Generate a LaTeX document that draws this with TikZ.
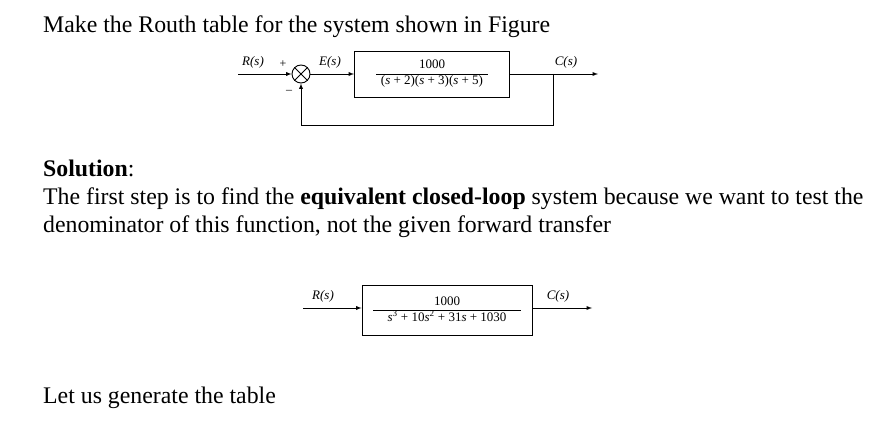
\documentclass[tikz,border=0pt]{standalone}
\usepackage{fontspec}
\setmainfont{Liberation Serif}
\begin{document}
\begin{tikzpicture}[x=1pt,y=-1pt,
  body/.style={font=\fontsize{23.8}{28}\selectfont,anchor=base west,inner sep=0},
  lab/.style={font=\fontsize{13}{15}\selectfont\itshape,inner sep=1pt},
  blk/.style={draw,line width=0.9pt,minimum width=155pt,minimum height=46pt,font=\fontsize{13}{15}\selectfont},
  sig/.style={line width=0.9pt,-latex}]
\useasboundingbox (0,0) rectangle (896,438);
\node[body] (t1) at (43,33) {Make the Routh table for the system shown in Figure};
% diagram 1
\coordinate (in1) at (238,74);
\node[draw,circle,line width=0.9pt,minimum size=18pt,inner sep=0] (sum) at (301,74) {};
\draw[line width=0.9pt] (sum.north west)--(sum.south east) (sum.north east)--(sum.south west);
\node[blk] (g1) at (432,74) {\begin{tabular}{@{}c@{}}1000\\[-9pt]\rule{112pt}{0.8pt}\\[-5pt](\textit{s} + 2)(\textit{s} + 3)(\textit{s} + 5)\end{tabular}};
\coordinate (br) at (553,74);
\coordinate (out1) at (598,74);
\coordinate (fb1) at (553,125);
\coordinate (fb2) at (301,125);
\draw[sig] (in1)--(sum.west);
\draw[sig] (sum.east)--(g1.west);
\draw[sig] (g1.east)--(out1);
\draw[sig] (br)--(fb1)--(fb2)--(sum.south);
\node[lab] (r1) at (253,62) {R(s)};
\node[lab,font=\fontsize{12}{14}\selectfont] (p1) at (283,64) {+};
\node[lab,font=\fontsize{12}{14}\selectfont] (m1) at (289,92) {\textendash};
\node[lab] (e1) at (330,62) {E(s)};
\node[lab] (c1) at (566,62) {C(s)};
% solution text
\node[body] (sol) at (43,177) {\textbf{Solution}:};
\node[body] (l1) at (43,205) {The first step is to find the \textbf{equivalent closed-loop} system because we want to test the};
\node[body] (l2) at (43,233) {denominator of this function, not the given forward transfer};
% diagram 2
\coordinate (in2) at (303,308);
\node[blk,minimum width=170pt,minimum height=50pt] (g2) at (447,310) {\begin{tabular}{@{}c@{}}1000\\[-9pt]\rule{148pt}{0.8pt}\\[-5pt]\textit{s}\textsuperscript{3} + 10\textit{s}\textsuperscript{2} + 31\textit{s} + 1030\end{tabular}};
\coordinate (out2) at (592,308);
\draw[sig] (in2)--(in2-|g2.west);
\draw[sig] (g2.east|-out2)--(out2);
\node[lab] (r2) at (323,296) {R(s)};
\node[lab] (c2) at (558,296) {C(s)};
\node[body] (l3) at (43,403) {Let us generate the table};
\end{tikzpicture}
\end{document}
